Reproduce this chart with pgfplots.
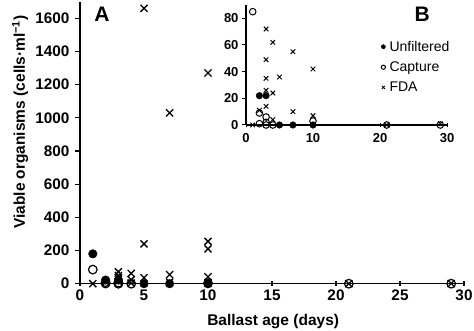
\documentclass[border=0pt]{standalone}
\usepackage{pgfplots}
\pgfplotsset{compat=1.18}
\usepackage{pgfplotstable}
\usepackage{fontspec}
\setmainfont{Liberation Sans}

\pgfplotstableread{
x y
1 180
2 22
3 22
5 0
7 0
10 0
}\unfiltered

\pgfplotstableread{
x y
1 85
2 9
2 1
3 6
3 2
3 0
4 0
10 3
21 0
29 0
}\capture

\pgfplotstableread{
x y
1 0
2 11
3 14
3 26
3 35
3 49
3 72
4 4
4 24
4 62
5 36
5 240
5 1660
7 10
7 55
7 1030
10 7
10 42
10 210
10 255
10 1270
21 0
29 1
}\fda

\begin{document}
\begin{tikzpicture}
\path[use as bounding box] (0,0) rectangle (474pt,331pt);
% main axis
\begin{axis}[
  at={(80pt,47.3pt)}, anchor=south west,
  scale only axis, width=384pt, height=282pt,
  xmin=0, xmax=30, ymin=0, ymax=1700,
  axis x line=bottom, axis y line=left,
  axis line style={-, line width=1.3pt},
  xtick={0,5,...,30}, ytick={0,200,...,1600},
  xticklabels={0,5,10,15,20,25,30},
  yticklabels={0,200,400,600,800,1000,1200,1400,1600},
  xtick align=center, ytick align=outside,
  major tick length=5pt,
  tick style={line width=1.1pt, black},
  tick label style={font=\bfseries\fontsize{15.3}{17}\selectfont},
  yticklabel style={xshift=-2pt},
  clip=false,
  xlabel={Ballast age (days)},
  ylabel={Viable organisms (cells·ml\textsuperscript{−1})},
  every axis x label/.style={at={(axis description cs:0.503,-0.135)}, anchor=center, font=\bfseries\fontsize{15.5}{17}\selectfont},
  every axis y label/.style={at={(axis description cs:-0.156,0.573)}, rotate=90, anchor=center, font=\bfseries\fontsize{15.5}{17}\selectfont},
]
\addplot[only marks, mark=*, mark size=4.3pt, mark options={fill=black, draw=black}] table[x=x,y=y] {\unfiltered};
\addplot[only marks, mark=o, mark size=4.3pt, mark options={fill=white, draw=black, line width=1.2pt}] table[x=x,y=y] {\capture};
\addplot[only marks, mark=x, mark size=5pt, mark options={draw=black, line width=1.3pt}] table[x=x,y=y] {\fda};
\node[font=\bfseries\fontsize{21}{21}\selectfont] at (axis cs:1.72,1622) {A};
\end{axis}
% inset
\begin{axis}[
  at={(246pt,206pt)}, anchor=south west,
  scale only axis, width=201pt, height=120pt,
  xmin=0, xmax=30, ymin=0, ymax=90,
  axis x line=bottom, axis y line=left,
  axis line style={-, line width=1.1pt},
  xtick={0,10,20,30}, ytick={0,20,...,80},
  xticklabels={0,10,20,30}, yticklabels={0,20,40,60,80},
  xtick align=center, ytick align=outside,
  major tick length=4pt,
  tick style={line width=1pt, black},
  tick label style={font=\bfseries\fontsize{13}{15}\selectfont},
  xticklabel style={yshift=-2.5pt},
  clip=false,
  restrict y to domain=-10:90,
  legend style={at={(axis cs:20.07,64.7)}, anchor=north west, draw=none, fill=none,
    font=\fontsize{14}{16}\selectfont, row sep=5pt, inner sep=0pt,
    cells={anchor=west}},
  legend image code/.code={\draw[#1, mark size=2.1pt] plot coordinates {(0cm,0cm)}; \path (-2.5pt,0pt) (4pt,0pt);},
  legend cell align=left,
]
\addplot[only marks, mark=*, mark size=3.3pt, mark options={fill=black, draw=black}] table[x=x,y=y] {\unfiltered};
\addplot[only marks, mark=o, mark size=3.3pt, mark options={fill=white, draw=black, line width=1pt}] table[x=x,y=y] {\capture};
\addplot[only marks, mark=x, mark size=3.2pt, mark options={draw=black, line width=1pt}] table[x=x,y=y] {\fda};
\legend{Unfiltered, Capture, FDA}
\node[font=\bfseries\fontsize{21}{21}\selectfont] at (axis cs:26.3,83) {B};
\end{axis}
\end{tikzpicture}
\end{document}
